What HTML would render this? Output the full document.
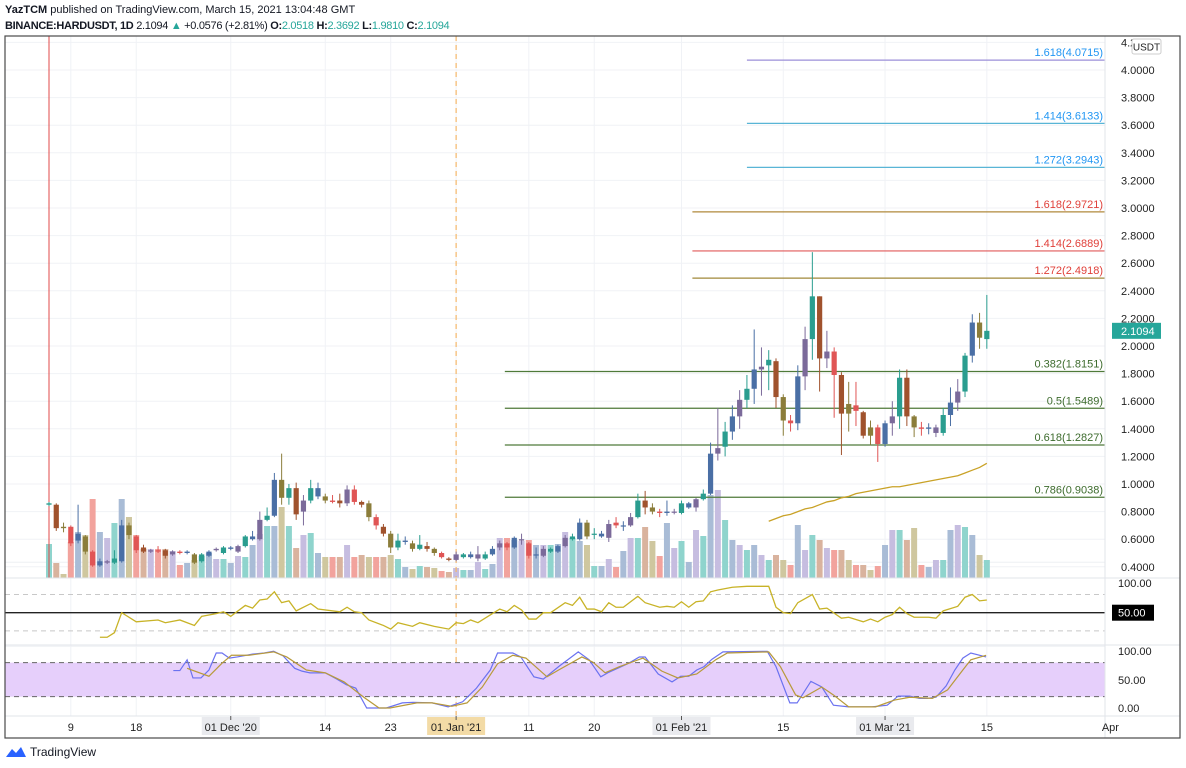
<!DOCTYPE html>
<html><head><meta charset="utf-8"><style>
html,body{margin:0;padding:0;background:#fff;}
body{width:1186px;height:768px;overflow:hidden;font-family:"Liberation Sans",sans-serif;}
#hdr{position:absolute;left:5px;top:2px;font-size:11px;color:#131722;line-height:16px;}
#hdr b{font-weight:bold;}
#l2{letter-spacing:-0.3px;}
.tl{color:#26a69a;}
#foot{position:absolute;left:5px;top:745px;font-size:12px;color:#131722;display:flex;align-items:center;gap:3px;}
svg{position:absolute;left:0;top:0;}
</style></head><body>
<div id="hdr">
<div><b>YazTCM</b> published on TradingView.com, March 15, 2021 13:04:48 GMT</div>
<div id="l2"><b>BINANCE:HARDUSDT, 1D</b> 2.1094 <span class="tl">▲</span> +0.0576 (+2.81%) <b>O:</b><span class="tl">2.0518</span> <b>H:</b><span class="tl">2.3692</span> <b>L:</b><span class="tl">1.9810</span> <b>C:</b><span class="tl">2.1094</span></div>
</div>
<svg id="chart" width="1186" height="768"></svg>
<div id="foot"><svg width="22" height="14" style="position:static"><path d="M1 12 L7 4 L11 8 L16 2 L21 12 Z" fill="#2962ff"/></svg><span>TradingView</span></div>
<script>
const opens=[.85,.85,.69,.69,.59,.62,.51,.41,.43,.43,.44,.70,.62,.54,.51,.52,.52,.49,.51,.50,.49,.44,.48,.52,.50,.53,.51,.55,.60,.60,.74,.77,1.03,.90,.97,.80,.88,.91,.91,.88,.88,.86,.96,.87,.86,.76,.69,.64,.54,.58,.57,.53,.55,.53,.50,.46,.45,.47,.47,.46,.46,.49,.54,.57,.54,.59,.57,.49,.48,.51,.51,.55,.60,.60,.72,.64,.62,.61,.72,.70,.70,.76,.88,.83,.80,.79,.80,.79,.83,.83,.89,.93,1.22,1.27,1.38,1.49,1.61,1.69,1.83,1.86,1.89,1.63,1.46,1.44,1.78,2.05,2.36,1.91,1.96,1.79,1.58,1.57,1.52,1.41,1.41,1.29,1.44,1.49,1.77,1.49,1.41,1.40,1.37,1.37,1.50,1.59,1.67,1.93,2.17,2.05];
const closes=[.86,.68,.68,.57,.64,.51,.41,.44,.44,.46,.70,.63,.52,.51,.52,.51,.48,.51,.50,.51,.43,.49,.51,.53,.54,.54,.55,.62,.62,.74,.77,1.03,.90,.97,.78,.88,.97,.97,.88,.87,.86,.96,.87,.85,.76,.70,.64,.54,.59,.59,.53,.56,.53,.50,.47,.45,.49,.49,.49,.49,.49,.53,.57,.54,.61,.60,.48,.49,.53,.53,.55,.61,.62,.72,.62,.64,.64,.71,.70,.70,.76,.88,.83,.80,.79,.80,.80,.86,.86,.89,.93,1.22,1.26,1.38,1.49,1.61,1.69,1.83,1.85,1.90,1.63,1.46,1.44,1.78,2.05,2.36,1.91,1.96,1.79,1.51,1.51,1.53,1.35,1.35,1.29,1.44,1.49,1.77,1.49,1.41,1.40,1.41,1.41,1.50,1.59,1.67,1.93,2.17,2.06,2.11];
const highs=[.87,.86,.72,.70,.85,.63,.52,.46,.45,.52,.74,.72,.63,.56,.53,.55,.53,.52,.52,.52,.50,.50,.52,.54,.55,.55,.56,.63,.66,.80,.83,1.08,1.22,1.00,1.01,.92,1.03,1.01,.93,.92,.93,.99,.99,.88,.88,.78,.71,.66,.64,.62,.59,.63,.58,.54,.51,.47,.51,.50,.51,.55,.51,.55,.59,.58,.62,.64,.58,.54,.55,.54,.56,.63,.64,.75,.74,.68,.66,.74,.76,.73,.79,.93,.95,.86,.82,.88,.82,.88,.87,.90,.96,1.30,1.55,1.45,1.57,1.68,1.79,2.12,1.99,1.97,1.91,1.65,1.50,1.86,2.14,2.68,2.36,2.11,1.99,1.81,1.74,1.74,1.53,1.46,1.43,1.46,1.60,1.83,1.83,1.50,1.45,1.44,1.43,1.55,1.70,1.76,1.95,2.23,2.24,2.37];
const lows=[.84,.66,.65,.55,.57,.49,.40,.40,.42,.42,.43,.60,.50,.50,.50,.50,.46,.48,.49,.49,.42,.43,.47,.51,.49,.52,.50,.54,.59,.59,.73,.76,.85,.85,.74,.70,.86,.89,.86,.86,.83,.84,.85,.83,.73,.67,.62,.50,.52,.56,.51,.52,.51,.48,.46,.44,.44,.46,.46,.44,.45,.48,.52,.52,.53,.56,.46,.46,.47,.50,.50,.54,.59,.59,.60,.60,.61,.58,.68,.66,.69,.75,.78,.78,.76,.77,.78,.78,.82,.80,.88,.92,1.17,1.20,1.32,1.40,1.55,1.58,1.64,1.68,1.55,1.35,1.38,1.39,1.68,1.90,1.67,1.84,1.48,1.21,1.38,1.42,1.33,1.28,1.16,1.27,1.35,1.40,1.42,1.34,1.35,1.36,1.34,1.35,1.42,1.53,1.63,1.88,1.98,1.98];
const volumes=[34,15,4,36,46,43,79,46,40,55,79,61,43,29,29,29,29,27,13,15,18,22,25,19,19,15,22,21,33,44,52,52,71,52,30,43,45,25,21,21,21,33,21,23,21,21,21,23,19,11,9,12,11,10,7,6,10,8,8,16,9,14,40,40,38,37,38,33,33,33,34,46,40,37,33,12,12,19,11,27,40,40,51,37,22,55,30,37,16,48,42,83,88,58,38,33,28,33,23,18,23,18,13,53,28,43,38,30,28,28,18,13,13,8,12,33,48,48,38,50,13,11,18,18,48,53,51,43,23,18];
const maStart=99;
const maValues=[.73,.75,.77,.78,.80,.82,.83,.85,.87,.88,.90,.91,.93,.94,.95,.96,.97,.98,.98,.99,1.00,1.01,1.02,1.03,1.04,1.05,1.06,1.08,1.10,1.12,1.15];
const rsiDays=[7,8,9,10,12,15,16,18,20,21,23,24,25,27,28,29,30,31,32,33,34,36,37,40,41,42,43,44,46,47,48,50,51,53,55,56,57,58,59,61,62,63,64,65,66,67,68,69,71,72,73,74,75,76,77,78,79,81,82,84,85,86,87,88,89,90,91,92,94,96,99,100,101,102,103,105,106,107,109,110,112,113,114,115,116,117,118,119,121,122,123,125,126,127,128,129];
const rsiValues=[23,23,28,50,40,42,39,42,36,46,49,51,46,58,55,64,65,73,61,63,52,60,54,51,56,51,50,42,36,32,39,35,39,35,32,39,38,42,39,49,54,51,58,53,43,43,50,50,61,58,67,54,54,51,61,56,56,68,61,56,57,56,62,56,62,63,73,75,78,79,79,56,50,49,61,70,54,55,44,45,40,43,40,45,48,56,49,45,45,44,52,57,67,70,63,64];
const kDays=[17.1,18,19,19.8,20.9,22,23,23.8,24.8,25.9,28,29.6,30.9,32.2,33.8,34.8,35.9,38,39.6,40.9,42.2,43.7,45.4,46.4,48.6,50.1,52.7,54.9,56.9,58.8,60.7,61.7,63.8,64.9,66.7,68,70.1,72.8,74.3,75.9,77,79.6,81.2,82,83.8,85.7,86.9,88,89.1,90.1,91.2,92.7,98.8,100,101.9,102.9,104.8,106.3,107.9,110,113.2,115.3,116.8,118.4,119.7,120.8,122,123.4,124.6,125.7,126.8,128.9];
const kValues=[66,66,85,53,53,67,97,97,88,90,95,97,100,92,70,65,62,62,51,41,35,0,0,0,9,10,9,2,11,35,67,97,97,90,55,51,73,99,85,55,63,78,90,90,60,46,56,56,67,73,86,99,100,73,9,9,47,37,5,2,2,5,21,21,17,17,19,39,67,88,97,90];
const dDays=[19,22,23.8,25.1,27.5,30.9,32.7,35.4,38,40.6,43.3,45.4,46.9,50.6,52.7,55.4,57.5,59.6,61.7,63.8,65.6,68.5,70.1,73.3,74.8,76.5,78.5,81.7,84.3,86.5,89.1,91.7,93.3,99,100.6,102.7,103.7,106.3,107.9,110,113.7,116.3,118.4,121.5,123.6,125.7,126.8,128.9];
const dValues=[70,56,79,93,93,99,90,67,62,46,19,0,0,9,9,3,9,37,78,93,88,55,67,90,81,62,73,88,65,53,60,85,97,99,73,23,18,37,23,2,2,14,19,17,32,67,85,93];
const fibRatios=["1.618","1.414","1.272","1.618","1.414","1.272","0.382","0.5","0.618","0.786"];
const fibPrices=[4.0715,3.6133,3.2943,2.9721,2.6889,2.4918,1.8151,1.5489,1.2827,0.9038];
const fibStartDays=[96,96,96,88.5,88.5,88.5,62.7,62.7,62.7,62.7];
const priceTicks=[4.2,4.0,3.8,3.6,3.4,3.2,3.0,2.8,2.6,2.4,2.2,2.0,1.8,1.6,1.4,1.2,1.0,0.8,0.6,0.4];
const timeDays=[3,12,25,38,47,56,66,75,87,101,115,129,146];
const timeLabels=["9","18","01 Dec '20","14","23","01 Jan '21","11","20","01 Feb '21","15","01 Mar '21","15","Apr"];

const NS="http://www.w3.org/2000/svg";
const svg=document.getElementById('chart');
const X=d=>49+7.27*d;
const YP=p=>346-(p-2)*138;
const YV=v=>578-v;
const YR=v=>612.7-(v-50)*0.91;
const YS=v=>708-v*0.567;
function mk(tag,attrs,parent){const e=document.createElementNS(NS,tag);for(const k in attrs)e.setAttribute(k,attrs[k]);(parent||svg).appendChild(e);return e;}
const R=1105,L=5;

priceTicks.forEach(p=>{const y=YP(p);if(y>40&&y<578){const g=mk('line',{x1:L,x2:R,y1:y,y2:y,stroke:'#f0f2f6'});

}});
timeDays.forEach(d=>{const x=X(d);if(x<R){const g=mk('line',{x1:x,x2:x,y1:36,y2:716,stroke:'#f0f2f6'});

}});
[YR(100),YS(100)].forEach(y=>{const g=mk('line',{x1:L,x2:R,y1:y-5,y2:y-5,stroke:'#eef0f4'});

});

const upCols=['#2a9d8f','#4a6fa5','#7b6a9a'],dnCols=['#e05555','#a0522d','#8b7d3a'];
const upV=['#8fd4cd','#a9bcd6','#c6bde0'],dnV=['#f2a39d','#d9b39e','#cfc79f'];
volumes.forEach((v,i)=>{const up=closes[i]>=opens[i];const r=mk('rect',{x:X(i)-3,y:YV(v),width:6,height:v,fill:(up?upV:dnV)[i%3]});

});

const fibLine=['#9c8fd8','#59b5d6','#59b5d6','#b08a3c','#e05a5a','#a0893a','#4f7a3a','#4f7a3a','#4f7a3a','#4f7a3a'];
const fibTxt=['#2196f3','#2196f3','#2196f3','#e0403a','#e0403a','#e0403a','#3d6b2d','#3d6b2d','#3d6b2d','#3d6b2d'];
fibPrices.forEach((p,i)=>{const y=YP(p);
const l=mk('line',{x1:X(fibStartDays[i]),x2:R,y1:y,y2:y,stroke:fibLine[i],'stroke-width':1.2});


const t=mk('text',{x:R-2,y:y-4,'text-anchor':'end','font-size':11,fill:fibTxt[i]});
t.textContent=fibRatios[i]+'('+p.toFixed(4)+')';

});

const rv=mk('line',{x1:49,x2:49,y1:36,y2:578,stroke:'#e04848','stroke-width':1});


const dv=mk('line',{x1:X(56),x2:X(56),y1:36,y2:716,stroke:'#f5b86a','stroke-width':1.2,'stroke-dasharray':'5,4'});



opens.forEach((o,i)=>{const c=closes[i];const up=c>=o;const col=(up?upCols:dnCols)[i%3];const x=X(i);
const w=mk('line',{x1:x,x2:x,y1:YP(highs[i]),y2:YP(lows[i]),stroke:col,'stroke-width':1});


const y1=YP(Math.max(o,c)),y2=YP(Math.min(o,c));
const b=mk('rect',{x:x-2.6,y:y1,width:5.2,height:Math.max(1.2,y2-y1),fill:col});

});

const maPts=maValues.map((v,i)=>X(maStart+i)+','+YP(v)).join(' ');
const ma=mk('polyline',{points:maPts,fill:'none',stroke:'#c9a227','stroke-width':1.3});



[70,30].forEach(v=>{const l=mk('line',{x1:L,x2:R,y1:YR(v),y2:YR(v),stroke:'#c8c8c8','stroke-dasharray':'5,4'});

});
const mid=mk('line',{x1:L,x2:R,y1:YR(50),y2:YR(50),stroke:'#222','stroke-width':1.3});


const rsi=mk('polyline',{points:rsiDays.map((d,i)=>X(d)+','+YR(rsiValues[i])).join(' '),fill:'none',stroke:'#c8b327','stroke-width':1.3});



const band=mk('rect',{x:L,y:YS(80),width:R-L,height:YS(20)-YS(80),fill:'#e6cffb'});


[80,20].forEach(v=>{const l=mk('line',{x1:L,x2:R,y1:YS(v),y2:YS(v),stroke:'#666','stroke-dasharray':'5,4'});

});
const kl=mk('polyline',{points:kDays.map((d,i)=>X(d)+','+YS(kValues[i])).join(' '),fill:'none',stroke:'#6b72f0','stroke-width':1.2});


const dl=mk('polyline',{points:dDays.map((d,i)=>X(d)+','+YS(dValues[i])).join(' '),fill:'none',stroke:'#b89a3a','stroke-width':1.2});



[578,645,716].forEach(y=>{const l=mk('line',{x1:L,x2:1180,y1:y,y2:y,stroke:'#e2e4ea'});

});
const ax=mk('line',{x1:R,x2:R,y1:36,y2:738,stroke:'#e2e4ea'});


const fr=mk('rect',{x:5,y:36,width:1175,height:702,fill:'none',stroke:'#4a4a4a','stroke-width':1.2});



priceTicks.forEach(p=>{const t=mk('text',{x:1121,y:YP(p)+4,'font-size':11,fill:'#222'});t.textContent=p.toFixed(4);

});
const ub=mk('rect',{x:1132,y:39,width:29,height:15,fill:'#fff',stroke:'#ccc',rx:2});


const ut=mk('text',{x:1146.5,y:50.5,'font-size':10,'text-anchor':'middle',fill:'#222'});ut.textContent='USDT';


const lastY=YP(closes[closes.length-1]);
const pb=mk('rect',{x:1112,y:lastY-8,width:49,height:16,fill:'#26a69a'});


const pt=mk('text',{x:1121,y:lastY+4,'font-size':11,fill:'#fff'});pt.textContent='2.1094';



function axl(txt,y,name,box){if(box){const b=mk('rect',{x:1112,y:y-8,width:42,height:16,fill:'#000'});

}
const t=mk('text',{x:1118,y:y+4,'font-size':11,fill:box?'#fff':'#222'});t.textContent=txt;

}
axl('100.00',583,'rsi-axis-100');axl('50.00',YR(50),'rsi-axis-50',true);
axl('100.00',651,'stoch-axis-100');axl('50.00',680,'stoch-axis-50');axl('0.00',708,'stoch-axis-0');

timeDays.forEach((d,i)=>{const x=X(d);const lab=timeLabels[i];const big=lab.length>4;
if(big){const b=mk('rect',{x:x-29,y:717,width:58,height:18,fill:d===56?'#f3dba6':'#e9eaee'});


const tk=mk('line',{x1:x,x2:x,y1:716,y2:720,stroke:'#555'});

}
const t=mk('text',{x:Math.min(x,1112),y:731,'font-size':11,'text-anchor':'middle',fill:'#222'});t.textContent=lab;

});
</script>
</body></html>
